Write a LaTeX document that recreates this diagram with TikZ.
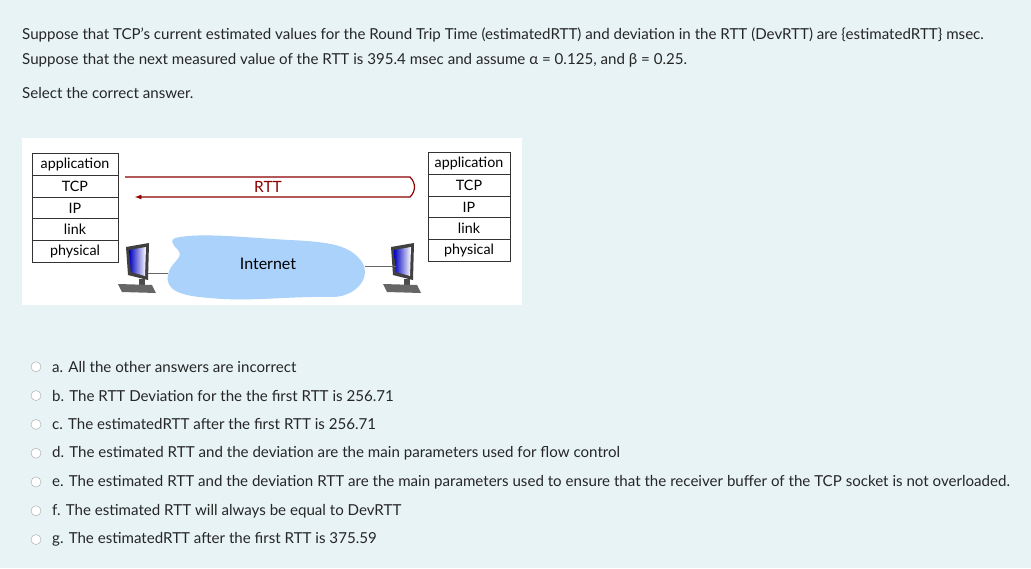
\documentclass[tikz,border=0pt]{standalone}
\usepackage{fontspec}
\setmainfont{Lato}
\begin{document}
\begin{tikzpicture}[x=1pt,y=-1pt,
  txt/.style={anchor=west,inner sep=0pt,font=\fontsize{15.1}{17}\selectfont,text=black!85},
  lay/.style={draw=black!80,line width=0.9pt,fill=white,minimum height=21.8pt,inner sep=0pt,font=\fontsize{14.3}{16}\selectfont},
  radio/.style={circle,draw=black!35,fill=white,minimum size=10pt,inner sep=0pt}]
\fill[fill={rgb,255:red,232;green,243;blue,246}] (0,0) rectangle (1031,568);
\useasboundingbox (0,0) rectangle (1031,568);
\fill[white] (22,138) rectangle (522,305);
\node[txt] (l1) at (22,35) {Suppose that TCP's current estimated values for the Round Trip Time (estimatedRTT) and deviation in the RTT (DevRTT) are \{estimatedRTT\} msec.};
\node[txt] (l2) at (22,60) {Suppose that the next measured value of the RTT is 395.4 msec and assume α = 0.125, and β = 0.25.};
\node[txt] (l3) at (22,93) {Select the correct answer.};
% stacks
\foreach \n/\t [count=\i] in {a/application,b/TCP,c/IP,d/link,e/physical}{
  \node[lay,minimum width=86pt] (L\n) at (75,{142.5+\i*21.8}) {\t};
  \node[lay,minimum width=82pt] (R\n) at (469,{141.5+\i*21.8}) {\t};
}
% cloud
\fill[fill={rgb,255:red,170;green,210;blue,250}] (175,238) .. controls (200,232) and (250,238) .. (290,240)
  .. controls (330,242) and (350,245) .. (362,262) .. controls (372,278) and (355,298) .. (330,297)
  .. controls (290,296) and (250,302) .. (210,298) .. controls (180,296) and (165,290) .. (168,275)
  .. controls (170,262) and (185,258) .. (178,250) .. controls (172,244) and (170,240) .. (175,238) -- cycle;
\node[inner sep=0pt,font=\fontsize{16}{18}\selectfont] (inet) at (268,264) {Internet};
% computers
\foreach \cx/\nm in {140/pcL,405/pcR}{
  \coordinate (\nm) at (\cx,265);
  \fill[black!75] (\cx-14,247) -- (\cx+9,243) -- (\cx+8,280) -- (\cx-12,275) -- cycle;
  \shade[left color=blue!75!black,right color=white] (\cx-11,250) -- (\cx+6,247) -- (\cx+5,276) -- (\cx-9,272) -- cycle;
  \fill[black!70] (\cx-1,279) rectangle (\cx+5,285);
  \fill[black!60] (\cx-22,284) -- (\cx+12,285) -- (\cx+16,293) -- (\cx-18,292) -- cycle;
}
\draw[black!60] (148,273) -- (168,273);
\draw[black!60] (365,266) -- (396,266);
% RTT arrow
\coordinate (s) at (125,177);
\coordinate (e) at (135,197);
\draw[red!55!black,line width=1.2pt,-latex] (s) -- (410,177) .. controls (416,183) and (416,191) .. (410,197) -- (e);
\node[inner sep=0pt,font=\fontsize{15.5}{18}\selectfont,text=red!55!black] (rtt) at (268,187) {RTT};
% options
\foreach \t [count=\i] in {a. All the other answers are incorrect,
 b. The RTT Deviation for the the first RTT is 256.71,
 c. The estimatedRTT after the first RTT is 256.71,
 d. The estimated RTT and the deviation are the main parameters used for flow control,
 e. The estimated RTT and the deviation RTT are the main parameters used to ensure that the receiver buffer of the TCP socket is not overloaded.,
 f. The estimated RTT will always be equal to DevRTT,
 g. The estimatedRTT after the first RTT is 375.59}{
  \node[radio] (r\i) at (36,{338+\i*28.8}) {};
  \node[txt] (o\i) at (52,{338+\i*28.8}) {\t};
}
\end{tikzpicture}
\end{document}
